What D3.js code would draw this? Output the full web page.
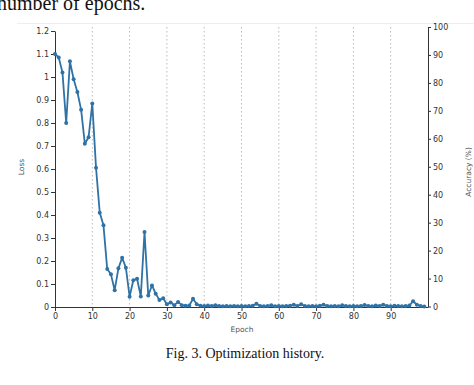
<!DOCTYPE html>
<html>
<head>
<meta charset="utf-8">
<script src="https://cdn.jsdelivr.net/npm/d3@7"></script>
<style>
  body { margin: 0; background: #fff; }
  svg { display: block; }
  .tick text { font-family: "DejaVu Sans", sans-serif; font-size: 8px; fill: #333; }
  .domain, .tick line { stroke: #333; }
</style>
</head>
<body>
<div id="chart"></div>
<script>
var w = 474,
    h = 385;

// loss per epoch
var epochs = d3.range(0, 100);
var loss = [1.10, 1.085, 1.02, 0.80, 1.068, 0.99, 0.935, 0.858, 0.71, 0.738,
    0.885, 0.605, 0.41, 0.355, 0.165, 0.142, 0.073, 0.168, 0.214, 0.171,
    0.045, 0.116, 0.123, 0.046, 0.326, 0.05, 0.094, 0.058, 0.03, 0.038,
    0.012, 0.02, 0.008, 0.022, 0.008, 0.005, 0.006, 0.036, 0.012, 0.005,
    0.004, 0.006, 0.004, 0.008, 0.004, 0.003, 0.004, 0.003, 0.004, 0.003,
    0.004, 0.003, 0.004, 0.005, 0.014, 0.004, 0.003, 0.004, 0.008, 0.003,
    0.004, 0.003, 0.004, 0.005, 0.01, 0.004, 0.012, 0.004, 0.003, 0.004,
    0.003, 0.005, 0.01, 0.004, 0.003, 0.004, 0.003, 0.008, 0.004, 0.003,
    0.004, 0.003, 0.004, 0.009, 0.004, 0.003, 0.007, 0.004, 0.01, 0.004,
    0.003, 0.005, 0.004, 0.003, 0.004, 0.006, 0.025, 0.01, 0.004, 0.002];

var lossTicks = d3.range(0, 13).map(function(d) { return d / 10; });
var accTicks = d3.range(0, 101, 10);
var epochTicks = d3.range(0, 100, 10);
var gridTicks = d3.range(10, 100, 10);

var x = d3.scaleLinear().domain([0, 100]).range([55, 428]);
var yLoss = d3.scaleLinear().domain([0, 1.2]).range([307, 31]);
var yAcc = d3.scaleLinear().domain([0, 100]).range([306.5, 27]);

var svg = d3.select("#chart").append("svg")
    .attr("width", w)
    .attr("height", h);

// bit of the page text above the figure
svg.append("text")
    .attr("x", -3)
    .attr("y", 9.5)
    .style("font-family", "'Liberation Serif', 'Times New Roman', serif")
    .style("font-size", "20px")
    .style("fill", "#111")
    .text("number of epochs.");

svg.append("line")
    .attr("x1", 17).attr("x2", w)
    .attr("y1", 23.5).attr("y2", 23.5)
    .style("stroke", "#eee");

// dotted vertical grid
svg.selectAll(".grid")
    .data(gridTicks)
    .enter().append("line")
    .attr("class", "grid")
    .attr("x1", function(d) { return x(d); })
    .attr("x2", function(d) { return x(d); })
    .attr("y1", yAcc(100))
    .attr("y2", yLoss(0))
    .style("stroke", "#bbb")
    .style("stroke-width", 1)
    .style("stroke-dasharray", "1.5,2.5");

svg.append("g")
    .attr("transform", "translate(0," + yLoss(0) + ")")
    .call(d3.axisBottom(x).tickValues(epochTicks).tickSize(4).tickPadding(2).tickSizeOuter(0));

svg.append("g")
    .attr("transform", "translate(" + x(0) + ",0)")
    .call(d3.axisLeft(yLoss).tickValues(lossTicks).tickSize(4).tickPadding(2).tickSizeOuter(0)
        .tickFormat(function(d) { return d3.format("~g")(d); }));

svg.append("g")
    .attr("transform", "translate(" + x(100) + ",0)")
    .call(d3.axisRight(yAcc).tickValues(accTicks).tickSize(3).tickPadding(2).tickSizeOuter(0));

// line + markers
var pts = epochs.map(function(e, i) { return { epoch: e, loss: loss[i] }; });

svg.append("path")
    .datum(pts)
    .attr("d", d3.line()
        .x(function(d) { return x(d.epoch); })
        .y(function(d) { return yLoss(d.loss); }))
    .style("fill", "none")
    .style("stroke", "#2f72a6")
    .style("stroke-width", 1.8)
    .style("stroke-linejoin", "round");

svg.selectAll(".pt")
    .data(pts)
    .enter().append("circle")
    .attr("class", "pt")
    .attr("cx", function(d) { return x(d.epoch); })
    .attr("cy", function(d) { return yLoss(d.loss); })
    .attr("r", 2)
    .style("fill", "#2f72a6");

// axis titles
svg.append("text")
    .attr("x", 242)
    .attr("y", 332)
    .attr("text-anchor", "middle")
    .style("font-family", "'DejaVu Sans', sans-serif")
    .style("font-size", "7.5px")
    .style("fill", "#555")
    .text("Epoch");

svg.append("text")
    .attr("transform", "translate(24,167) rotate(-90)")
    .attr("text-anchor", "middle")
    .style("font-family", "'DejaVu Sans', sans-serif")
    .style("font-size", "7.5px")
    .style("fill", "#555")
    .text("Loss");

svg.append("text")
    .attr("transform", "translate(471,172) rotate(-90)")
    .attr("text-anchor", "middle")
    .style("font-family", "'DejaVu Sans', sans-serif")
    .style("font-size", "7.5px")
    .style("fill", "#555")
    .text("Accuracy (%)");

svg.append("text")
    .attr("x", 245)
    .attr("y", 357.5)
    .attr("text-anchor", "middle")
    .style("font-family", "'Liberation Serif', 'Times New Roman', serif")
    .style("font-size", "14px")
    .style("fill", "#111")
    .text("Fig. 3. Optimization history.");
</script>
</body>
</html>
